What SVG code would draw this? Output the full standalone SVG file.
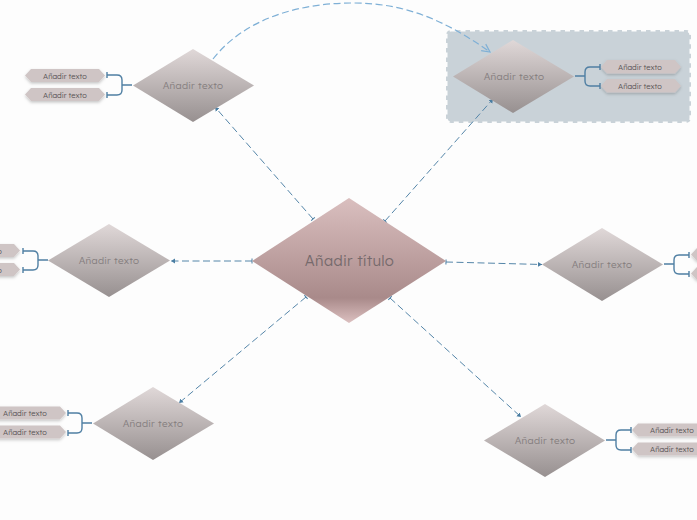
<svg xmlns="http://www.w3.org/2000/svg" width="697" height="520" viewBox="0 0 697 520">
<style>
.t{font-family:"Lexend","Lato","Liberation Sans",sans-serif;text-anchor:middle;font-weight:300}
.n{font-size:9.900px;fill:#847d7e;letter-spacing:.25px}
.s{font-size:7.500px;fill:#565153}
.d{fill:url(#g)}
.p{fill:#cfc5c5;filter:url(#sh)}
.c{fill:none;stroke:#5586a9;stroke-width:1;stroke-dasharray:7 3.500}
.b{fill:none;stroke:#4f7fa3;stroke-width:1.400}
</style>
<defs>
<linearGradient id="g" x1="0" y1="0" x2="0" y2="1"><stop offset="0" stop-color="#e0d8d8"/><stop offset="1" stop-color="#979090"/></linearGradient>
<linearGradient id="m" x1="0" y1="0" x2="0" y2="1"><stop offset="0" stop-color="#dabfbf"/><stop offset=".8" stop-color="#a98a8a"/><stop offset="1" stop-color="#dcc0c0"/></linearGradient>
<filter id="sh" x="-10%" y="-30%" width="120%" height="170%"><feDropShadow dx="0" dy="1.500" stdDeviation="1.500" flood-color="#000" flood-opacity=".22"/></filter>
<marker id="a" markerWidth="5" markerHeight="6" refX="4" refY="3" orient="auto" markerUnits="userSpaceOnUse"><path d="M0 0.500L4 3L0 5.500z" fill="#4a7ea3"/></marker>
<marker id="st" markerWidth="4" markerHeight="6" refX="1" refY="3" orient="auto" markerUnits="userSpaceOnUse"><path d="M1 0.500V5.500" fill="none" stroke="#4a7ea3" stroke-width="1"/></marker>
<marker id="a2" markerWidth="10" markerHeight="10" refX="9" refY="5" orient="auto" markerUnits="userSpaceOnUse"><path d="M1 1L9 5L1 9" fill="none" stroke="#7fb0d6" stroke-width="1.200"/></marker>
</defs>
<rect width="697" height="520" fill="#fdfdfd"/>
<g id="highlight">
<rect x="446" y="30" width="245" height="93" rx="5" fill="#c9d2d8"/>
<rect x="446" y="30" width="245" height="93" rx="5" fill="none" stroke="#fdfdfd" stroke-width="3" stroke-dasharray="5 4.500"/>
</g>
<g id="connectors">
<path class="c" d="M313 219L215 107" marker-end="url(#a)" marker-start="url(#st)"/>
<path class="c" d="M385 221L493 99" marker-end="url(#a)" marker-start="url(#st)"/>
<path class="c" d="M252 261L171 261" marker-end="url(#a)" marker-start="url(#st)"/>
<path class="c" d="M446 262L542 264.500" marker-end="url(#a)" marker-start="url(#st)"/>
<path class="c" d="M306 297L179 403" marker-end="url(#a)" marker-start="url(#st)"/>
<path class="c" d="M390 298L521 417" marker-end="url(#a)" marker-start="url(#st)"/>
<path d="M213 59C245 18 300 3 353 3C410 3 450 24 490 52" fill="none" stroke="#7fb0d6" stroke-width="1.200" stroke-dasharray="7 3.500" marker-end="url(#a2)"/>
<g class="b">
<path d="M132 85H122M107 75H117Q122 75 122 80V90Q122 95 117 95H107M107 72V78M107 92V98"/>
<path d="M575 76H585M600 67H590Q585 67 585 72V81Q585 86 590 86H600M600 64V70M600 83V89"/>
<path d="M48 260H38M23 251H33Q38 251 38 256V265Q38 270 33 270H23M23 248V254M23 267V273"/>
<path d="M664 264H674M689 255H679Q674 255 674 260V269Q674 274 679 274H689M689 252V258M689 271V277"/>
<path d="M92 423H82M68 413H77Q82 413 82 418V428Q82 433 77 433H68M68 410V416M68 430V436"/>
<path d="M606 440H616M631 430H621Q616 430 616 435V445Q616 450 621 450H631M631 427V433M631 447V453"/>
</g>
</g>
<g id="center"><path fill="url(#m)" d="M349 198L446 261L349 323L252 261z"/><text class="t" x="349.500" y="266" font-size="14.800" fill="#766a6c" letter-spacing=".3">Añadir título</text></g>
<g id="topleft"><path class="d" d="M193 49L254 85.500L193 122L133 85.500z"/><text class="t n" x="193" y="89">Añadir texto</text></g>
<g id="topleft-a"><path class="p" d="M25 75.500L31 69H99L105 75.500L99 82H31z"/><text class="t s" x="65" y="78.500">Añadir texto</text></g>
<g id="topleft-b"><path class="p" d="M25 94.500L31 88H99L105 94.500L99 101H31z"/><text class="t s" x="65" y="97.500">Añadir texto</text></g>
<g id="topright"><path class="d" d="M513 40L574 76.500L513 113L453 76.500z"/><text class="t n" x="514" y="80">Añadir texto</text></g>
<g id="topright-a"><path class="p" d="M601 67L607 60H675L681 67L675 73.500H607z"/><text class="t s" x="640" y="70">Añadir texto</text></g>
<g id="topright-b"><path class="p" d="M601 86L607 79H675L681 86L675 92.500H607z"/><text class="t s" x="640" y="89">Añadir texto</text></g>
<g id="left"><path class="d" d="M109 224L170 260.500L109 297L48 260.500z"/><text class="t n" x="109" y="264">Añadir texto</text></g>
<g id="left-a"><path class="p" d="M-60 250.500L-54 244H14L20 250.500L14 257H-54z"/><text class="t s" x="-20" y="253.500">Añadir texto</text></g>
<g id="left-b"><path class="p" d="M-60 269.500L-54 263H14L20 269.500L14 276H-54z"/><text class="t s" x="-20" y="272.500">Añadir texto</text></g>
<g id="right"><path class="d" d="M602 228L663 264.500L602 301L542 264.500z"/><text class="t n" x="602" y="268">Añadir texto</text></g>
<g id="right-a"><path class="p" d="M691 254.500L697 248H765L771 254.500L765 261H697z"/></g>
<g id="right-b"><path class="p" d="M691 273.500L697 267H765L771 273.500L765 280H697z"/></g>
<g id="bottomleft"><path class="d" d="M153 387L214 423.500L153 460L93 423.500z"/><text class="t n" x="153" y="427">Añadir texto</text></g>
<g id="bottomleft-a"><path class="p" d="M-14 413L-8 406.500H60L66 413L60 419.500H-8z"/><text class="t s" x="25" y="416">Añadir texto</text></g>
<g id="bottomleft-b"><path class="p" d="M-14 432L-8 425.500H60L66 432L60 438.500H-8z"/><text class="t s" x="25" y="435">Añadir texto</text></g>
<g id="bottomright"><path class="d" d="M545 404L605 440.500L545 477L484 440.500z"/><text class="t n" x="545" y="444">Añadir texto</text></g>
<g id="bottomright-a"><path class="p" d="M632 430L638 423.500H706L712 430L706 436.500H638z"/><text class="t s" x="672" y="433">Añadir texto</text></g>
<g id="bottomright-b"><path class="p" d="M632 449L638 442.500H706L712 449L706 455.500H638z"/><text class="t s" x="672" y="452">Añadir texto</text></g>
</svg>
